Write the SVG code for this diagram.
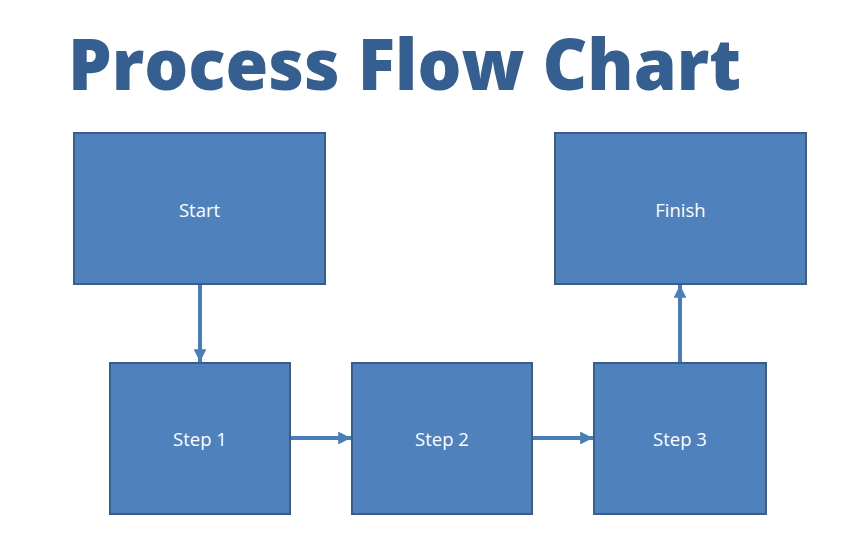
<svg xmlns="http://www.w3.org/2000/svg" width="853" height="553" viewBox="0 0 853 553">
<style>
.box{fill:#4F81BD;stroke:#385D8A;stroke-width:2}
.lbl{font-family:"Open Sans","Liberation Sans",sans-serif;font-size:18.5px;fill:#fff;text-anchor:middle;dominant-baseline:central}
.conn{stroke:#4A7EBB;stroke-width:4;fill:none}
.title{font-family:"Open Sans","Liberation Sans",sans-serif;font-weight:800;font-size:70px;fill:#365F91}
</style>
<defs>
<marker id="ah" viewBox="0 0 10 10" refX="10" refY="5" markerWidth="3.2" markerHeight="3.2" orient="auto" markerUnits="strokeWidth">
<path d="M0,0 L10,5 L0,10 Z" fill="#4A7EBB"/>
</marker>
</defs>
<rect width="853" height="553" fill="#fff"/>
<text class="title" x="68" y="90" textLength="673" lengthAdjust="spacingAndGlyphs">Process Flow Chart</text>
<g id="connectors">
<line class="conn" x1="200" y1="285" x2="200" y2="362" marker-end="url(#ah)"/>
<line class="conn" x1="291" y1="438" x2="351" y2="438" marker-end="url(#ah)"/>
<line class="conn" x1="533" y1="438" x2="593" y2="438" marker-end="url(#ah)"/>
<line class="conn" x1="680" y1="362" x2="680" y2="285" marker-end="url(#ah)"/>
</g>
<g id="start"><rect class="box" x="74" y="133" width="251" height="151"/><text class="lbl" x="199.5" y="209">Start</text></g>
<g id="finish"><rect class="box" x="555" y="133" width="251" height="151"/><text class="lbl" x="680.5" y="209">Finish</text></g>
<g id="step1"><rect class="box" x="110" y="363" width="180" height="151"/><text class="lbl" x="200" y="438">Step 1</text></g>
<g id="step2"><rect class="box" x="352" y="363" width="180" height="151"/><text class="lbl" x="442" y="438">Step 2</text></g>
<g id="step3"><rect class="box" x="594" y="363" width="172" height="151"/><text class="lbl" x="680" y="438">Step 3</text></g>
</svg>
